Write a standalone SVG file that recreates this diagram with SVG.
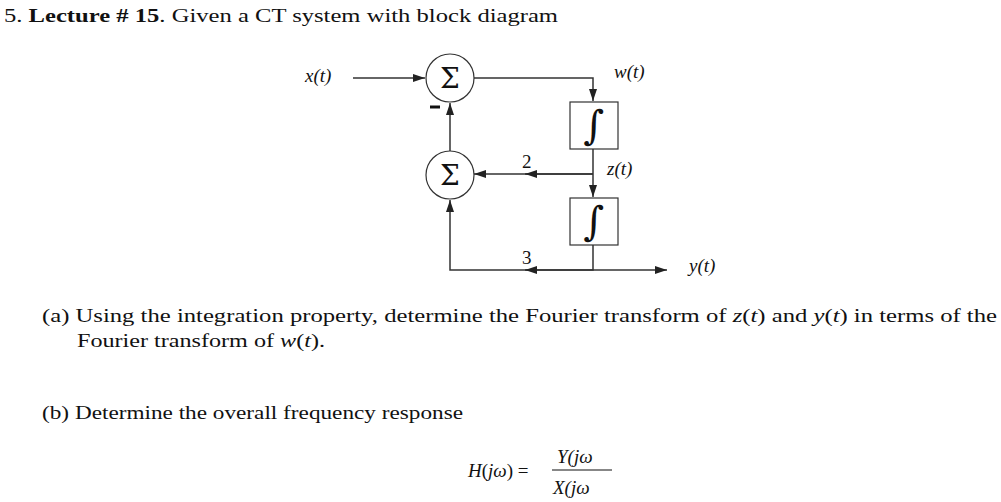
<svg xmlns="http://www.w3.org/2000/svg" width="1001" height="502" viewBox="0 0 1001 502">
<style>
text{font-family:"Liberation Serif",serif;font-size:19px;fill:#111}
.i{font-style:italic}
.l{stroke:#333;stroke-width:1.5;fill:none}
.n{stroke:#333;stroke-width:1.2;fill:#fff}
.s{font-family:"DejaVu Serif",serif;font-size:28px}
.g{font-family:"DejaVu Serif",serif;font-size:40px}
</style>
<defs><marker id="a" markerWidth="12" markerHeight="8" refX="12" refY="4" orient="auto" markerUnits="userSpaceOnUse"><path d="M0,0L12,4L0,8z" fill="#222"/></marker></defs>
<rect width="1001" height="502" fill="#fff"/>
<text x="4" y="22" textLength="554" lengthAdjust="spacingAndGlyphs"><tspan>5. </tspan><tspan font-weight="bold">Lecture # 15</tspan>. Given a CT system with block diagram</text>
<g id="connectors">
<path class="l" d="M353,78H425" marker-end="url(#a)"/>
<path class="l" d="M474,78H593V101" marker-end="url(#a)"/>
<path class="l" d="M593,149V197" marker-end="url(#a)"/>
<path class="l" d="M593,174H474" marker-end="url(#a)"/>
<path class="l" d="M593,174H525" marker-end="url(#a)"/>
<path class="l" d="M450,151V103" marker-end="url(#a)"/>
<path class="l" d="M593,245V270H450V200" marker-end="url(#a)"/>
<path class="l" d="M593,270H525" marker-end="url(#a)"/>
<path class="l" d="M593,270H667" marker-end="url(#a)"/>
<path d="M430,107H440" stroke="#111" stroke-width="3"/>
</g>
<g id="sum1"><circle class="n" cx="450" cy="78" r="24"/><text x="450" y="88" text-anchor="middle" class="s">Σ</text></g>
<g id="sum2"><circle class="n" cx="450" cy="175" r="24"/><text x="450" y="185" text-anchor="middle" class="s">Σ</text></g>
<g id="int1"><rect class="n" x="570" y="102" width="48" height="47"/><text x="594" y="139" text-anchor="middle" class="g">∫</text></g>
<g id="int2"><rect class="n" x="570" y="198" width="48" height="47"/><text x="594" y="235" text-anchor="middle" class="g">∫</text></g>
<text x="305" y="82" class="i">x(t)</text>
<text x="614" y="78" class="i">w(t)</text>
<text x="607" y="175" class="i">z(t)</text>
<text x="689" y="272" class="i">y(t)</text>
<text x="522" y="168">2</text>
<text x="522" y="264">3</text>
<text x="42" y="322" textLength="955" lengthAdjust="spacingAndGlyphs">(a)  Using the integration property, determine the Fourier transform of <tspan class="i">z</tspan>(<tspan class="i">t</tspan>) and <tspan class="i">y</tspan>(<tspan class="i">t</tspan>) in terms of the</text>
<text x="77" y="347" textLength="248" lengthAdjust="spacingAndGlyphs">Fourier transform of <tspan class="i">w</tspan>(<tspan class="i">t</tspan>).</text>
<text x="42" y="419" textLength="421" lengthAdjust="spacingAndGlyphs">(b)  Determine the overall frequency response</text>
<text x="468" y="477"><tspan class="i">H</tspan>(<tspan class="i">jω</tspan>) =</text>
<text x="557" y="463" class="i">Y(jω</text>
<text x="553" y="494" class="i">X(jω</text>
<path d="M552,470H612" stroke="#111" stroke-width="1.2"/>
</svg>
